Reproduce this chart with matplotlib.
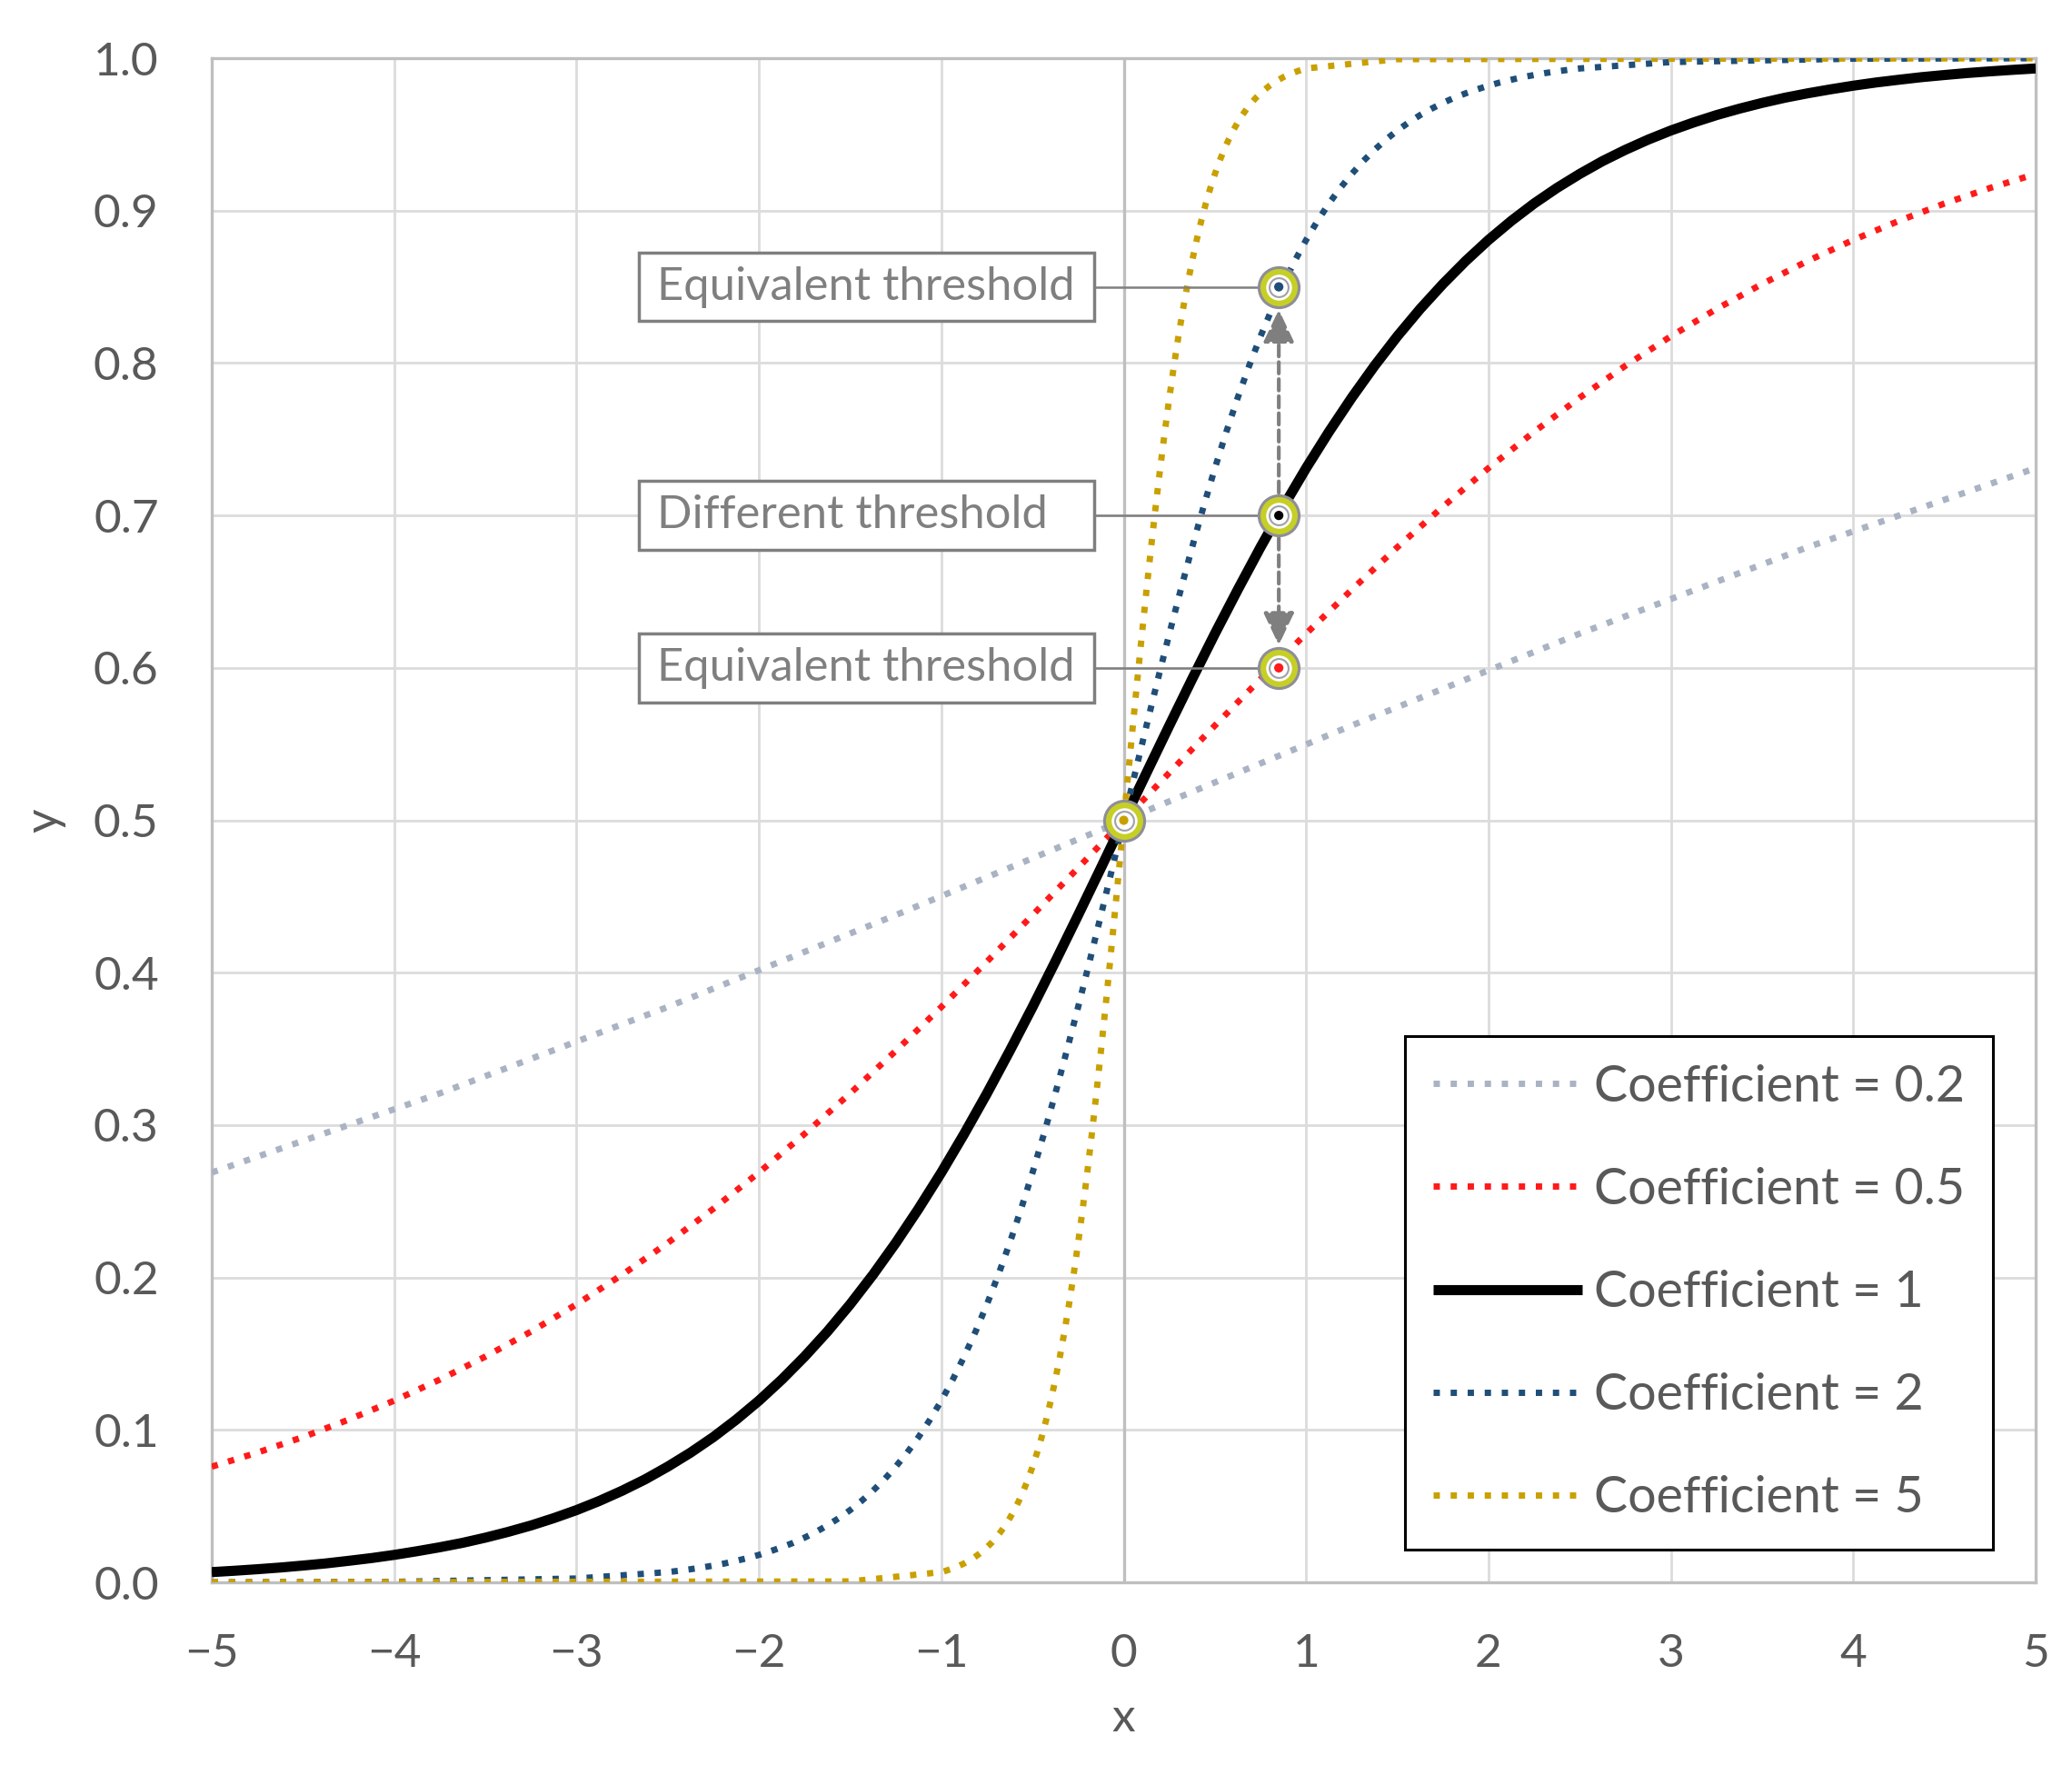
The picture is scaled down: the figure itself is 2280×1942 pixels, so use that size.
import numpy as np
import matplotlib
matplotlib.use("Agg")
import matplotlib.pyplot as plt
from matplotlib.patches import Rectangle

plt.rcParams['font.family'] = ['Lato', 'DejaVu Sans']

# logistic curves y = 1 / (1 + exp(-c x))
coef_labels = ["Coefficient = 0.2", "Coefficient = 0.5", "Coefficient = 1",
               "Coefficient = 2", "Coefficient = 5"]

x_c02 = np.linspace(-5, 5, 9)
y_c02 = [0.2689, 0.3208, 0.3775, 0.4378, 0.5000, 0.5622, 0.6225, 0.6792, 0.7311]

x_c05 = np.linspace(-5, 5, 41)
y_c05 = [0.0759, 0.0851, 0.0953, 0.1067, 0.1192, 0.1330, 0.1481, 0.1645, 0.1824, 0.2018,
         0.2227, 0.2451, 0.2689, 0.2942, 0.3208, 0.3487, 0.3775, 0.4073, 0.4378, 0.4688,
         0.5000, 0.5312, 0.5622, 0.5927, 0.6225, 0.6513, 0.6792, 0.7058, 0.7311, 0.7549,
         0.7773, 0.7982, 0.8176, 0.8355, 0.8519, 0.8670, 0.8808, 0.8933, 0.9047, 0.9149,
         0.9241]

x_c1 = np.linspace(-5, 5, 81)
y_c1 = [0.0067, 0.0076, 0.0086, 0.0097, 0.0110, 0.0124, 0.0141, 0.0159, 0.0180, 0.0204,
        0.0230, 0.0259, 0.0293, 0.0331, 0.0373, 0.0421, 0.0474, 0.0534, 0.0601, 0.0675,
        0.0759, 0.0851, 0.0953, 0.1067, 0.1192, 0.1330, 0.1481, 0.1645, 0.1824, 0.2018,
        0.2227, 0.2451, 0.2689, 0.2942, 0.3208, 0.3487, 0.3775, 0.4073, 0.4378, 0.4688,
        0.5000,
        0.5312, 0.5622, 0.5927, 0.6225, 0.6513, 0.6792, 0.7058, 0.7311, 0.7549, 0.7773,
        0.7982, 0.8176, 0.8355, 0.8519, 0.8670, 0.8808, 0.8933, 0.9047, 0.9149, 0.9241,
        0.9325, 0.9399, 0.9466, 0.9526, 0.9579, 0.9627, 0.9669, 0.9707, 0.9741, 0.9770,
        0.9796, 0.9820, 0.9841, 0.9859, 0.9876, 0.9890, 0.9903, 0.9914, 0.9924, 0.9933]

# steeper curves: same shape over a narrower x range, flat tails outside it
x_c2 = np.concatenate([[-5, -4, -3], np.linspace(-2.5, 2.5, 81), [3, 4, 5]])
y_c2 = [0.0000, 0.0003, 0.0025] + y_c1 + [0.9975, 0.9997, 1.0000]

x_c5 = np.concatenate([[-5, -1.5], np.linspace(-1, 1, 81), [1.5, 5]])
y_c5 = [0.0000, 0.0006] + y_c1 + [0.9994, 1.0000]

# threshold points
thr_x = 0.85
thr_y = [0.85, 0.70, 0.60]
thr_labels = ["Equivalent threshold", "Different threshold", "Equivalent threshold"]
center_pt = (0.0, 0.5)

x_ticks = list(range(-5, 6))
y_ticks = [0.0, 0.1, 0.2, 0.3, 0.4, 0.5, 0.6, 0.7, 0.8, 0.9, 1.0]

col_c02 = '#a9b3c3'
col_c05 = '#ff1a1a'
col_c1 = '#000000'
col_c2 = '#1f4e79'
col_c5 = '#c9a000'
txt_col = '#595959'
ann_col = '#7f7f7f'

fig = plt.figure(figsize=(22.8, 19.42), dpi=100)
ax = fig.add_axes([0.1022, 0.1035, 0.8803, 0.8635])

dot = (0, (1, 1.7))
ax.plot(x_c02, y_c02, color=col_c02, lw=5, ls=dot, dash_capstyle='butt', label=coef_labels[0], zorder=3)
ax.plot(x_c05, y_c05, color=col_c05, lw=5, ls=dot, dash_capstyle='butt', label=coef_labels[1], zorder=3)
ax.plot(x_c1, y_c1, color=col_c1, lw=8, solid_capstyle='butt', solid_joinstyle='round',
        label=coef_labels[2], zorder=3)
ax.plot(x_c2, y_c2, color=col_c2, lw=5, ls=dot, dash_capstyle='butt', label=coef_labels[3], zorder=3)
ax.plot(x_c5, y_c5, color=col_c5, lw=5, ls=dot, dash_capstyle='butt', label=coef_labels[4], zorder=3)

ax.set_xlim(-5, 5)
ax.set_ylim(0, 1)
ax.set_xticks(x_ticks)
ax.set_yticks(y_ticks)
ax.set_yticklabels([f"{v:.1f}" for v in y_ticks])
ax.grid(color='#dcdcdc', lw=2, zorder=0)
ax.set_axisbelow(True)
ax.axvline(0, color='#bfbfbf', lw=2.4, zorder=1)
for s in ax.spines.values():
    s.set_color('#bfbfbf')
    s.set_linewidth(2.4)
ax.tick_params(length=0, labelsize=37, labelcolor=txt_col)
ax.tick_params(axis='x', pad=40)
ax.tick_params(axis='y', pad=42)
ax.set_xlabel("x", fontsize=37, color=txt_col, labelpad=18)
ax.set_ylabel("y", fontsize=37, color=txt_col, labelpad=22)

# annotation boxes with connectors
box_left, box_right, box_h = -2.66, -0.16, 0.045
for yv, lab in zip(thr_y, thr_labels):
    ax.add_patch(Rectangle((box_left, yv - box_h / 2), box_right - box_left, box_h,
                           facecolor='white', edgecolor=ann_col, lw=2.5, zorder=5))
    ax.text(box_left + 0.1, yv, lab, fontsize=36.5, color=ann_col, ha='left', va='center', zorder=6)
    ax.plot([box_right, thr_x], [yv, yv], color=ann_col, lw=1.8, zorder=4)

# dashed arrows between thresholds
for y_to in (thr_y[0], thr_y[2]):
    ax.annotate('', xy=(thr_x, y_to), xytext=(thr_x, thr_y[1]),
                arrowprops=dict(arrowstyle='-|>,head_length=0.55,head_width=0.26',
                                linestyle=(0, (3, 1.5)), lw=3, color=ann_col,
                                shrinkA=18, shrinkB=18, mutation_scale=40),
                zorder=6)

# ring markers
pts_x = [center_pt[0], thr_x, thr_x, thr_x]
pts_y = [center_pt[1]] + thr_y
pts_c = [col_c5, col_c2, col_c1, col_c05]
ax.plot(pts_x, pts_y, ls='none', marker='o', ms=34, mfc='#8e8e99', mec='none', zorder=7)
ax.plot(pts_x, pts_y, ls='none', marker='o', ms=25, mfc='white', mec='#c6cf25', mew=4.5, zorder=8)
ax.plot(pts_x, pts_y, ls='none', marker='o', ms=15, mfc='white', mec='#a0a0a8', mew=1.5, zorder=8)
ax.scatter(pts_x, pts_y, s=40, c=pts_c, zorder=9)

leg = ax.legend(loc='lower right', bbox_to_anchor=(0.9766, 0.0215), borderaxespad=0,
                fontsize=40, fancybox=False, framealpha=1, edgecolor='black',
                handlelength=2.95, handletextpad=0.25, labelspacing=1.12, borderpad=0.55)
leg.get_frame().set_linewidth(2.2)
for t in leg.get_texts():
    t.set_color(txt_col)

fig.savefig("out.png", dpi=100)
